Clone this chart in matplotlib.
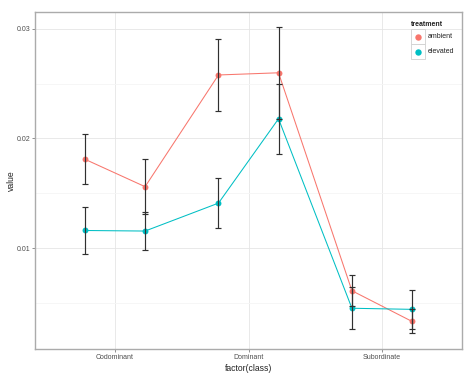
import matplotlib
matplotlib.use("Agg")
import matplotlib.pyplot as plt
from matplotlib.patches import Rectangle
import numpy as np

plt.rcParams["font.family"] = ["Liberation Sans", "DejaVu Sans"]

# data
classes = ["Codominant", "Dominant", "Subordinate"]
ambient_mean = [0.0181, 0.0156, 0.0258, 0.0260, 0.0061, 0.0033]
ambient_se = [0.0023, 0.0025, 0.0033, 0.0042, 0.0014, 0.0011]
elevated_mean = [0.0116, 0.01155, 0.0141, 0.0218, 0.0045, 0.0044]
elevated_se = [0.00215, 0.0017, 0.0023, 0.0032, 0.0019, 0.0018]
treatments = ["ambient", "elevated"]
colors = {"ambient": "#F8766D", "elevated": "#00BFC4"}

dodge = 0.225
xpos = []
for i in range(len(classes)):
    xpos += [i + 1 - dodge, i + 1 + dodge]
xpos = np.array(xpos)

fig = plt.figure(figsize=(4.74, 3.77), dpi=100, facecolor="white")
ax = fig.add_axes([35 / 474, 1 - 349 / 377, (462 - 35) / 474, (349 - 12) / 377])

series = {"ambient": (ambient_mean, ambient_se), "elevated": (elevated_mean, elevated_se)}
for t in treatments:
    m, se = series[t]
    ax.plot(xpos, m, color=colors[t], lw=0.75, zorder=3)
    ax.scatter(xpos, m, s=18, color=colors[t], zorder=4, linewidths=0)
for t in treatments:
    m, se = series[t]
    ax.errorbar(xpos, m, yerr=se, fmt="none", ecolor="#303030", elinewidth=0.85,
                capsize=2.4, capthick=0.85, zorder=5)

ax.set_xlim(0.4, 3.6)
ax.set_ylim(0.00078, 0.03155)
ax.set_xticks([1, 2, 3])
ax.set_xticklabels(classes)
ax.set_yticks([0.01, 0.02, 0.03])
ax.set_yticklabels(["0.01", "0.02", "0.03"])
ax.set_yticks([0.005, 0.015, 0.025], minor=True)
ax.grid(True, which="major", color="#E5E5E5", lw=0.6, zorder=0)
ax.grid(True, which="minor", axis="y", color="#F5F5F5", lw=0.6, zorder=0)
ax.set_axisbelow(True)
ax.tick_params(axis="both", which="major", length=2, width=0.6, color="#7F7F7F",
               labelsize=5, labelcolor="#4D4D4D", pad=1.5)
ax.tick_params(axis="y", which="minor", length=0)
for s in ax.spines.values():
    s.set_color("#ABABAB")
    s.set_linewidth(1.0)

ax.set_xlabel("factor(class)", fontsize=6.2, color="#222222", labelpad=2)
ax.set_ylabel("value", fontsize=6.2, color="#222222", labelpad=0)

# legend drawn ggplot-style
fig.text(411 / 474, 1 - 25 / 377, "treatment", fontsize=5, fontweight="bold",
         va="center", ha="left", color="#222222")
for k, t in enumerate(treatments):
    yc = 1 - (36.5 + 15 * k) / 377
    fig.patches.append(Rectangle((411 / 474, yc - 7.5 / 377), 14 / 474, 15 / 377,
                                 transform=fig.transFigure, facecolor="white",
                                 edgecolor="#D0D0D0", lw=0.6))
    fig.lines.append(plt.Line2D([418 / 474], [yc], marker="o", ms=4.6, mew=0,
                                color=colors[t], transform=fig.transFigure))
    fig.text(428 / 474, yc, t, fontsize=5, va="center", ha="left", color="#222222")

fig.savefig("out.png", dpi=100)
